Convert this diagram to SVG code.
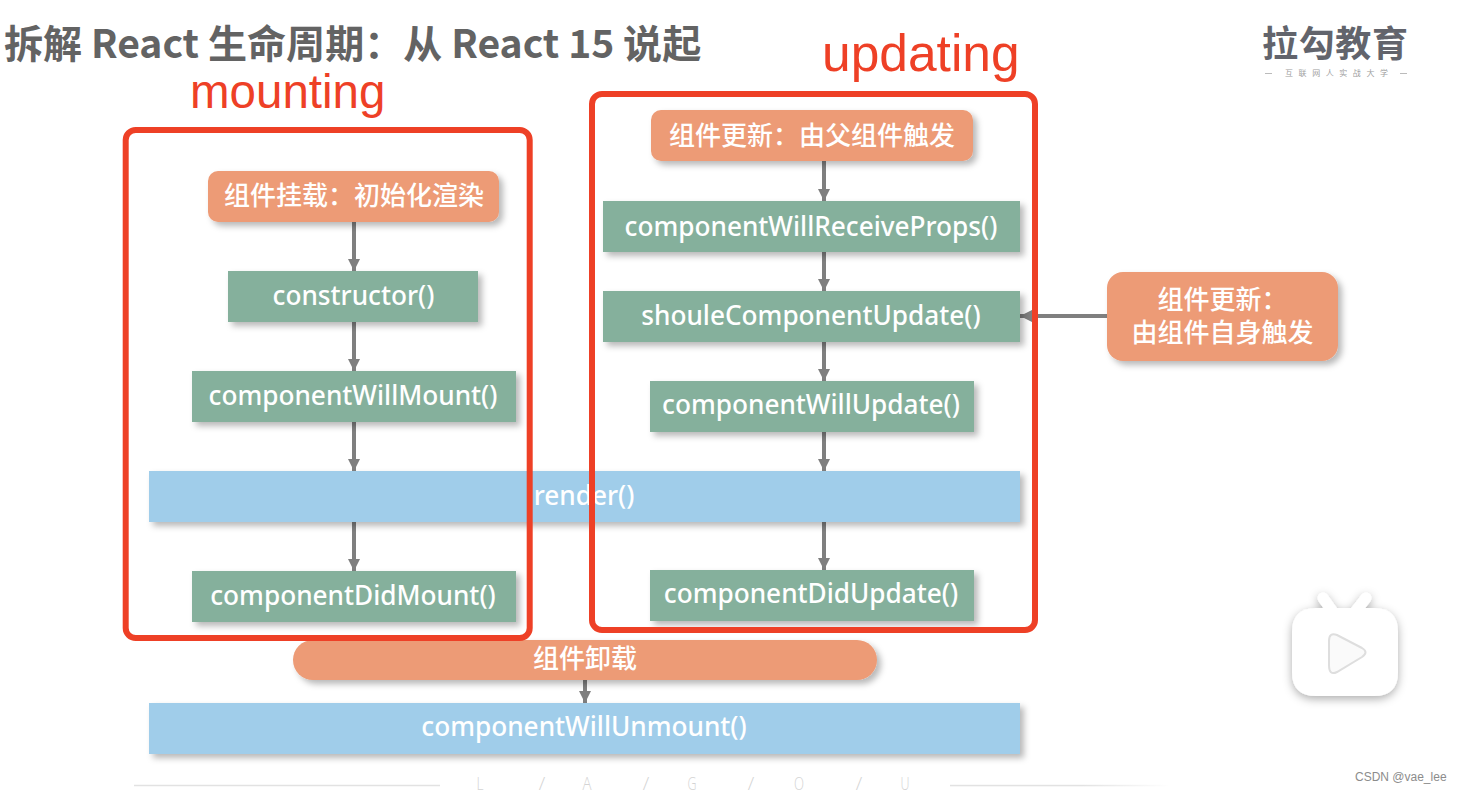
<svg xmlns="http://www.w3.org/2000/svg" width="1462" height="792" viewBox="0 0 1462 792">
<style>
.n{filter:url(#sh)}
.o{fill:#ed9b76}
.g{fill:#85b09c}
.b{fill:#a0cdea}
text{font-family:"Noto Sans","Noto Sans CJK SC",sans-serif}
.t{fill:#fff;font-size:26.200px;font-weight:500;text-anchor:middle}
.c{fill:#fff;font-size:26px;font-weight:500;text-anchor:middle;font-family:"Noto Sans CJK SC","Noto Sans",sans-serif}
.r{fill:none;stroke:#ee4026;stroke-width:6}
.l{fill:#ee4026;font-family:"Liberation Sans",sans-serif}
.a{stroke:#7f7f7f;stroke-width:4;fill:none;marker-end:url(#ah)}
.f{fill:#d4d4d4;font-size:19px;font-weight:300;text-anchor:middle;font-family:"Open Sans",sans-serif}
</style>
<defs>
<filter id="sh" x="-5%" y="-20%" width="110%" height="150%"><feDropShadow dx="4" dy="4" stdDeviation="3" flood-color="#000" flood-opacity=".28"/></filter>
<filter id="sw" x="-20%" y="-20%" width="140%" height="140%"><feDropShadow dx="0" dy="3" stdDeviation="5" flood-color="#000" flood-opacity=".32"/></filter>
<linearGradient id="fr" x1="0" x2="1" y1="0" y2="0"><stop offset="0" stop-color="#e2e2e2"/><stop offset=".6" stop-color="#e2e2e2"/><stop offset="1" stop-color="#fff"/></linearGradient>
<marker id="ah" markerUnits="userSpaceOnUse" markerWidth="14" markerHeight="12" refX="12" refY="6" orient="auto"><path d="M0 0L12 6L0 12z" fill="#7f7f7f"/></marker>
</defs>
<rect width="1462" height="792" fill="#fff"/>
<text id="title" x="4" y="58" font-size="39.100" font-weight="700" fill="#636363" style="font-family:'Noto Sans CJK SC','Noto Sans',sans-serif">拆解 React 生命周期：从 React 15 说起</text>
<g id="logo" fill="#62646c">
<text x="1262" y="57" font-size="36" font-weight="700" textLength="146" style="font-family:'Noto Sans CJK SC',sans-serif">拉勾教育</text>
<text x="1285" y="76" font-size="8" fill="#a0a0a0" textLength="103" style="font-family:'Noto Sans CJK SC',sans-serif">互联网人实战大学</text>
<path d="M1265 73.500h7M1400 73.500h7" stroke="#bbb"/>
</g>
<g id="connectors">
<path class="a" d="M354 222V271"/>
<path class="a" d="M354 322V371"/>
<path class="a" d="M354 422V471"/>
<path class="a" d="M354 522V571"/>
<path class="a" d="M824 161V201"/>
<path class="a" d="M824 252V291"/>
<path class="a" d="M824 342V381"/>
<path class="a" d="M824 432V471"/>
<path class="a" d="M824 522V570"/>
<path class="a" d="M585 680V703"/>
<path class="a" d="M1107 316H1020"/>
</g>
<g id="mount-start"><rect class="n o" x="208" y="171" width="291" height="51" rx="10"/><text class="c" x="354" y="205">组件挂载：初始化渲染</text></g>
<g id="constructor"><rect class="n g" x="228" y="271" width="250" height="51"/><text class="t" x="353.500" y="305">constructor()</text></g>
<g id="will-mount"><rect class="n g" x="192" y="371" width="324" height="51"/><text class="t" x="353" y="405">componentWillMount()</text></g>
<g id="render"><rect class="n b" x="149" y="471" width="871" height="51"/><text class="t" x="584" y="505">render()</text></g>
<g id="did-mount"><rect class="n g" x="192" y="571" width="324" height="51"/><text class="t" x="353" y="605">componentDidMount()</text></g>
<g id="unmount-start"><rect class="n o" x="293" y="640" width="584" height="40" rx="20"/><text class="c" x="585" y="668">组件卸载</text></g>
<g id="will-unmount"><rect class="n b" x="149" y="703" width="871" height="51"/><text class="t" x="584" y="736">componentWillUnmount()</text></g>
<g id="update-parent"><rect class="n o" x="651" y="110" width="322" height="51" rx="10"/><text class="c" x="812" y="145">组件更新：由父组件触发</text></g>
<g id="will-receive"><rect class="n g" x="603" y="201" width="417" height="51"/><text class="t" x="811" y="236">componentWillReceiveProps()</text></g>
<g id="should-update"><rect class="n g" x="603" y="291" width="417" height="51"/><text class="t" x="811" y="325">shouleComponentUpdate()</text></g>
<g id="will-update"><rect class="n g" x="650" y="381" width="324" height="51"/><text class="t" x="811" y="414">componentWillUpdate()</text></g>
<g id="did-update"><rect class="n g" x="650" y="570" width="324" height="51"/><text class="t" x="811" y="603">componentDidUpdate()</text></g>
<g id="update-self"><rect class="n o" x="1107" y="272" width="231" height="89" rx="16"/><text class="c" x="1222.500" y="309">组件更新：</text><text class="c" x="1222.500" y="342">由组件自身触发</text></g>
<g id="mounting"><rect class="r" x="125.700" y="130" width="404" height="508" rx="10"/><text class="l" x="190" y="108" font-size="47.500">mounting</text></g>
<g id="updating"><rect class="r" x="592" y="94" width="443" height="536" rx="10"/><text class="l" x="822" y="71" font-size="51.500">updating</text></g>
<g id="footer">
<path d="M134 785.500H440" stroke="#e2e2e2" stroke-width="1.500"/>
<rect x="950" y="784.800" width="220" height="1.500" fill="url(#fr)"/>
<text class="f" x="480" y="790" textLength="7" lengthAdjust="spacingAndGlyphs">L</text>
<text class="f" x="542" y="790" font-size="15">/</text>
<text class="f" x="587" y="790" textLength="9" lengthAdjust="spacingAndGlyphs">A</text>
<text class="f" x="646" y="790" font-size="15">/</text>
<text class="f" x="692" y="790" textLength="9" lengthAdjust="spacingAndGlyphs">G</text>
<text class="f" x="751" y="790" font-size="15">/</text>
<text class="f" x="799" y="790" textLength="10" lengthAdjust="spacingAndGlyphs">O</text>
<text class="f" x="859" y="790" font-size="15">/</text>
<text class="f" x="905" y="790" textLength="9" lengthAdjust="spacingAndGlyphs">U</text>
</g>
<g id="play" filter="url(#sw)">
<path d="M1323 598L1333 612M1366 598L1355 612" stroke="#fff" stroke-width="11" stroke-linecap="round"/>
<path d="M1316 608H1374Q1398 608 1398 632V672Q1398 696 1374 696H1316Q1292 696 1292 672V632Q1292 608 1316 608Z" fill="#fff"/>
</g>
<path d="M1329 641Q1329 632 1337 635L1362 648Q1369 652 1362 657L1337 672Q1329 676 1329 665Z" fill="#fafafa" stroke="#dedede" stroke-width="2"/>
<text id="credit" x="1355" y="781" font-size="12" fill="#8c8c8c" style="font-family:'Liberation Sans',sans-serif">CSDN @vae_lee</text>
</svg>
